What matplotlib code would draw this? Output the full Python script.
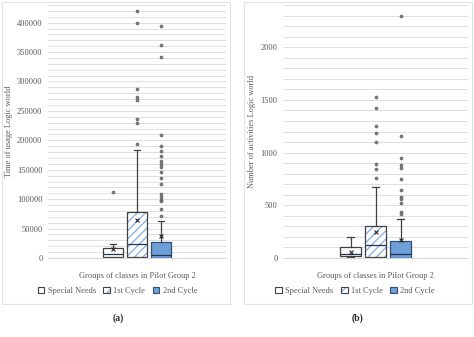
import matplotlib
matplotlib.use("Agg")
import matplotlib.pyplot as plt
from matplotlib.patches import PathPatch, Rectangle, Patch
from matplotlib.legend_handler import HandlerTuple
import numpy as np

plt.rcParams['font.family'] = ['Liberation Serif', 'DejaVu Serif']
plt.rcParams['hatch.linewidth'] = 1.0

groups = ["Special Needs", "1st Cycle", "2nd Cycle"]

# Panel (a): Time of usage
time_whislo = [0, 0, 0]
time_q1 = [1700, 1000, 500]
time_median = [6000, 24000, 4600]
time_q3 = [17500, 78000, 26700]
time_whishi = [23000, 183000, 63500]
time_mean = [16000, 65000, 37000]
time_outliers = [
    [112000],
    [420000, 399000, 287000, 273000, 268000, 236000, 230000, 194000],
    [395000, 362000, 342000, 209000, 191000, 182000, 174000, 165000, 160000,
     155000, 146000, 136000, 125000, 108000, 103000, 99000, 97000, 83000, 72000],
]

# Panel (b): Number of activities
act_whislo = [5, 0, 0]
act_q1 = [19, 5, 3]
act_median = [35, 119, 40]
act_q3 = [102, 307, 157]
act_whishi = [203, 676, 368]
act_mean = [60, 250, 170]
act_outliers = [
    [],
    [1523, 1425, 1250, 1183, 1098, 892, 847, 755],
    [2298, 1159, 950, 880, 855, 750, 648, 580, 560, 520, 440, 416],
]

TXT = '#595959'
EDGE = '#404040'
GRID = '#d9d9d9'
HATCH = '#8db3e2'
FILL2 = '#6f9fd9'
EDGE2 = '#2f4f78'
FS = 6

fig = plt.figure(figsize=(4.74, 3.37), dpi=100)
W, H = 474, 337

def px_axes(x0, y0, x1, y1):
    return fig.add_axes([x0 / W, 1 - y1 / H, (x1 - x0) / W, (y1 - y0) / H])

# panel borders
for (x0, x1) in [(2, 230), (244, 472)]:
    fig.add_artist(Rectangle((x0 / W, 1 - 304 / H), (x1 - x0) / W, 302 / H,
                             transform=fig.transFigure, fill=False,
                             ec='#e3e3e3', lw=0.8))

def draw(ax, wl, q1, med, q3, wh, mean, fl, ymax, major, minor, ylabel):
    stats = []
    for i in range(3):
        stats.append(dict(whislo=wl[i], q1=q1[i], med=med[i], q3=q3[i],
                          whishi=wh[i], mean=mean[i], fliers=fl[i],
                          label=groups[i]))
    pos = [-1, 0, 1]
    res = ax.bxp(stats, positions=pos, widths=0.86, patch_artist=True,
                 showmeans=True, showfliers=True, capwidths=0.28,
                 boxprops=dict(lw=0.9, ec=EDGE),
                 medianprops=dict(color='#1f3550', lw=0.9),
                 whiskerprops=dict(color=EDGE, lw=0.9),
                 capprops=dict(color=EDGE, lw=0.9),
                 meanprops=dict(marker='x', markeredgecolor='#262626',
                                markersize=3.5, markeredgewidth=0.8),
                 flierprops=dict(marker='o', markersize=2.2,
                                 markerfacecolor='#7f7f7f',
                                 markeredgecolor='#595959',
                                 markeredgewidth=0.4))
    boxes = res['boxes']
    boxes[0].set_facecolor('white')
    boxes[1].set_facecolor('white')
    boxes[1].set_edgecolor(HATCH)
    boxes[1].set_hatch('////')
    boxes[1].set_linewidth(0)
    ax.add_patch(PathPatch(boxes[1].get_path(), fill=False, ec=EDGE, lw=0.9,
                           zorder=boxes[1].get_zorder() + 0.1))
    boxes[2].set_facecolor(FILL2)
    boxes[2].set_edgecolor(EDGE2)
    ax.set_xlim(-3.7, 3.7)
    ax.set_ylim(0, ymax)
    ax.set_yticks(np.arange(0, ymax + 1, major))
    ax.set_yticks(np.arange(0, ymax + 1, minor), minor=True)
    ax.grid(True, which='both', axis='y', color=GRID, lw=0.6)
    ax.set_axisbelow(True)
    for s in ['left', 'right', 'top']:
        ax.spines[s].set_visible(False)
    ax.spines['bottom'].set_color(GRID)
    ax.spines['bottom'].set_linewidth(0.8)
    ax.set_xticks([])
    ax.tick_params(axis='y', which='both', length=0, labelsize=FS,
                   labelcolor=TXT, pad=4)
    ax.set_ylabel(ylabel, fontsize=FS, color=TXT, labelpad=3)
    ax.set_xlabel("Groups of classes in Pilot Group 2", fontsize=FS,
                  color=TXT, labelpad=10)
    h1 = Patch(fc='white', ec=EDGE, lw=0.8)
    h2 = (Patch(fc='white', ec=HATCH, hatch='///', lw=0),
          Patch(fill=False, ec=EDGE, lw=0.8))
    h3 = Patch(fc=FILL2, ec=EDGE2, lw=0.8)
    ax.legend([h1, h2, h3], groups, loc='upper center',
              bbox_to_anchor=(0.39, -0.1),
              handler_map={tuple: HandlerTuple(ndivide=1, pad=0)},
              ncol=3, frameon=False, fontsize=FS, labelcolor=TXT,
              handlelength=0.8, handleheight=0.8, handletextpad=0.4,
              columnspacing=0.9, borderaxespad=0)

ax1 = px_axes(48, 5, 226, 258)
draw(ax1, time_whislo, time_q1, time_median, time_q3, time_whishi, time_mean,
     time_outliers, 430000, 50000, 10000, "Time of usage Logic world")

ax2 = px_axes(283, 5, 468, 258)
draw(ax2, act_whislo, act_q1, act_median, act_q3, act_whishi, act_mean,
     act_outliers, 2400, 500, 100, "Number of activities Logic world")

fig.text(118 / W, 1 - 318 / H, "(a)", ha='center', va='center', fontsize=7,
         fontweight='bold', color='#262626')
fig.text(358 / W, 1 - 318 / H, "(b)", ha='center', va='center', fontsize=7,
         fontweight='bold', color='#262626')

fig.savefig("out.png", dpi=100)
